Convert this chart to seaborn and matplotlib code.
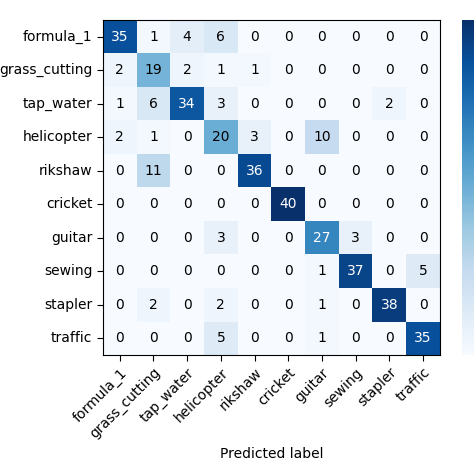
import matplotlib
matplotlib.use("Agg")
import matplotlib.pyplot as plt
import seaborn as sns
import numpy as np

labels = ["formula_1","grass_cutting","tap_water","helicopter","rikshaw","cricket","guitar","sewing","stapler","traffic"]
cm = np.array([
 [35,1,4,6,0,0,0,0,0,0],
 [2,19,2,1,1,0,0,0,0,0],
 [1,6,34,3,0,0,0,0,2,0],
 [2,1,0,20,3,0,10,0,0,0],
 [0,11,0,0,36,0,0,0,0,0],
 [0,0,0,0,0,40,0,0,0,0],
 [0,0,0,3,0,0,27,3,0,0],
 [0,0,0,0,0,0,1,37,0,5],
 [0,2,0,2,0,0,1,0,38,0],
 [0,0,0,5,0,0,1,0,0,35],
])

fig = plt.figure(figsize=(4.74,4.74), dpi=100)
ax = fig.add_axes([0.217,0.251,0.711,0.707])
cax = fig.add_axes([0.975,0.251,0.05,0.707])
sns.heatmap(cm, cmap="Blues", vmin=0, vmax=40, annot=False, cbar=True, cbar_ax=cax, ax=ax, square=False)
for i in range(10):
    for j in range(10):
        v = cm[i,j]
        ax.text(j+0.5, i+0.5, str(v), ha="center", va="center", fontsize=10,
                color="white" if v > 20 else "black")
for s in ax.spines.values():
    s.set_visible(True); s.set_color("black")
ax.set_xticks(np.arange(10)+0.5)
ax.set_xticklabels(labels, rotation=45, ha="right", rotation_mode="anchor", fontsize=10)
ax.set_yticks(np.arange(10)+0.5)
ax.set_yticklabels(labels, rotation=0, fontsize=10)
ax.tick_params(length=4)
ax.set_xlabel("Predicted label", fontsize=10)
cax.set_yticks([])
cax.tick_params(length=0)
fig.savefig("out.png", dpi=100)
